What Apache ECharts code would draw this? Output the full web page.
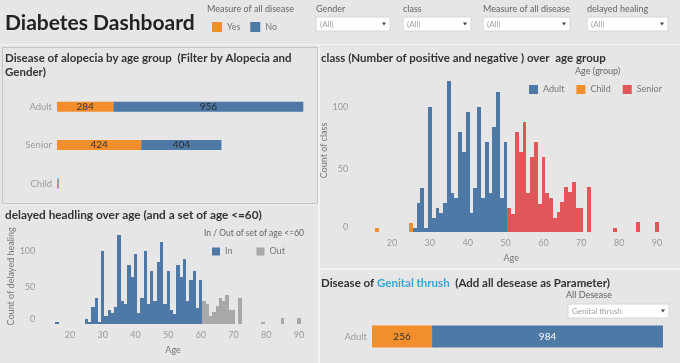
<!DOCTYPE html>
<html><head><meta charset="utf-8">
<script src="https://cdn.jsdelivr.net/npm/echarts@6/dist/echarts.min.js"></script>
<style>html,body{margin:0;padding:0;background:#e6e6e6}#c{width:680px;height:363px}</style>
</head><body><div id="c"></div>
<script>
// ---------- data ----------
const measureNames = ['Yes', 'No'];
const alopeciaGroups = ['Adult', 'Senior', 'Child'];
const alopeciaYes = [284, 424, 7];
const alopeciaNo = [956, 404, 3];
const thrushGroups = ['Adult'];
const thrushYes = [256];
const thrushNo = [984];
const ages =     [16, 25, 26, 27, 28, 29, 30, 31, 32, 33, 34, 35, 36, 37, 38, 39, 40, 41, 42, 43, 44, 45, 46, 47, 48, 49, 50,
                  51, 52, 53, 54, 55, 56, 57, 58, 59, 60, 61, 62, 63, 64, 65, 66, 67, 68, 69, 70, 72, 79, 85, 90];
const counts =   [3, 7, 3, 23, 35, 3, 100, 11, 19, 15, 23, 121, 31, 27, 80, 64, 96, 15, 35, 100, 27, 72, 31, 84, 112, 27, 72,
                  19, 14, 80, 64, 88, 31, 60, 72, 22, 60, 31, 27, 11, 16, 24, 36, 32, 40, 19, 19, 36, 3, 8, 8];
const ageGroup = ['Child','Child','Adult','Adult','Adult','Adult','Adult','Adult','Adult','Adult','Adult','Adult','Adult','Adult','Adult','Adult','Adult','Adult','Adult','Adult','Adult','Adult','Adult','Adult','Adult','Adult','Adult',
                  'Senior','Senior','Senior','Senior','Senior','Senior','Senior','Senior','Senior','Senior','Senior','Senior','Senior','Senior','Senior','Senior','Senior','Senior','Senior','Senior','Senior','Senior','Senior','Senior'];
const groupNames = ['Adult', 'Child', 'Senior'];
const setNames = ['In', 'Out'];
const setLimit = 60;
const filterLabels = ['Gender', 'class', 'Measure of all disease', 'delayed healing'];

// ---------- style ----------
const F = 'Lato, "Open Sans", sans-serif';
const BLUE = '#4e79a7', ORANGE = '#f28e2b', RED = '#e15759', GRAY = '#a8a8a8';
const groupColors = { Adult: BLUE, Child: ORANGE, Senior: RED };

const chart = echarts.init(document.getElementById('c'));

function txt(x, y, text, size, color, weight, align) {
  return { type: 'text', z: 10, style: { x, y, text, fill: color, font: (weight || 'normal') + ' ' + size + 'px ' + F,
    fontSize: size, fontWeight: weight || 'normal', fontFamily: F,
    align: align || 'left', textAlign: align || 'left', verticalAlign: 'middle', textVerticalAlign: 'middle' } };
}
function dropdown(x, y, w, h, label) {
  return [
    { type: 'rect', z: 5, shape: { x, y, width: w, height: h }, style: { fill: '#ffffff', stroke: '#d6d6d6', lineWidth: 1 } },
    txt(x + 4, y + h / 2, label, 8, '#a0a0a0'),
    { type: 'polygon', z: 10, shape: { points: [[x + w - 8, y + h / 2 - 1.5], [x + w - 4, y + h / 2 - 1.5], [x + w - 6, y + h / 2 + 1.5]] }, style: { fill: '#444' } }
  ];
}

const filterPos = [[316, 74], [403, 68], [483, 87], [587, 81]];
const T = 11.5;
const graphics = [
  // panels
  { type: 'rect', z: 1, shape: { x: 2.5, y: 47.5, width: 315, height: 156 }, style: { fill: 'none', stroke: '#c4c4c4', lineWidth: 1 } },
  { type: 'line', z: 1, shape: { x1: 0, y1: 44.5, x2: 680, y2: 44.5 }, style: { stroke: '#f3f3f3', lineWidth: 1 } },
  { type: 'line', z: 1, shape: { x1: 319, y1: 45, x2: 319, y2: 363 }, style: { stroke: '#f3f3f3', lineWidth: 2 } },
  { type: 'line', z: 1, shape: { x1: 319, y1: 269, x2: 680, y2: 269 }, style: { stroke: '#f3f3f3', lineWidth: 2 } },
  { type: 'line', z: 1, shape: { x1: 0, y1: 205, x2: 318, y2: 205 }, style: { stroke: '#f3f3f3', lineWidth: 1 } },
  // header
  txt(5, 23, 'Diabetes Dashboard', 21, '#222', 'bold'),
  txt(207, 9, 'Measure of all disease', 9, '#666'),
  // titles
  txt(5, 58, 'Disease of alopecia by age group  (Filter by Alopecia and', T, '#333', 'bold'),
  txt(5, 72, 'Gender)', T, '#333', 'bold'),
  txt(321, 58, 'class (Number of positive and negative ) over  age group', T, '#333', 'bold'),
  txt(5, 215, 'delayed headling over age (and a set of age <=60)', 11.8, '#333', 'bold'),
  { type: 'text', z: 10, style: { x: 321, y: 283, verticalAlign: 'middle', textVerticalAlign: 'middle',
    text: '{a|Disease of }{b|Genital thrush}{a|  (Add all desease as Parameter)}',
    rich: { a: { fontSize: T, fontWeight: 'bold', fontFamily: F, fill: '#333', color: '#333' },
            b: { fontSize: T, fontWeight: 'bold', fontFamily: F, fill: '#2fa8d8', color: '#2fa8d8' } } } },
  // legend titles
  txt(575, 71, 'Age (group)', 9, '#666'),
  txt(204, 233, 'In / Out of set of age <=60', 8.5, '#666'),
  txt(566, 295, 'All Desease', 9, '#666'),
  ...dropdown(568, 304, 101, 14, 'Genital thrush')
];
filterLabels.forEach((lab, i) => {
  const [x, w] = filterPos[i];
  graphics.push(txt(x, 9, lab, 9, '#666'));
  graphics.push(...dropdown(x, 17, w, 14, '(All)'));
});

const axisLab = { color: '#9a9a9a', fontSize: 9, fontFamily: F };
const noLine = { show: false };

function barLabel(color) {
  return { show: true, position: 'inside', color, fontSize: 10, fontFamily: F,
    formatter: p => (p.value >= 50 ? String(p.value) : '') };
}

const histX = (idx) => ({
  type: 'value', gridIndex: idx, min: 10, max: 93, interval: 10,
  axisLine: noLine, axisTick: noLine, splitLine: noLine,
  axisLabel: Object.assign({ showMinLabel: false, showMaxLabel: false, margin: 7 }, axisLab),
  name: 'Age', nameLocation: 'middle', nameGap: 22, nameTextStyle: { color: '#777', fontSize: 9, fontFamily: F }
});
const histY = (idx, name, margin, gap) => ({
  type: 'value', gridIndex: idx, min: 0, max: 130, interval: 50,
  axisLine: noLine, axisTick: noLine, splitLine: noLine,
  axisLabel: Object.assign({ showMaxLabel: false, margin,
    formatter: v => (v === 0 ? '{z|0}' : String(v)),
    rich: { z: { color: '#9a9a9a', fontSize: 9, fontFamily: F, padding: [0, 0, 10, 0] } } }, axisLab),
  name, nameLocation: 'middle', nameRotate: 90, nameGap: gap, nameTextStyle: { color: '#777', fontSize: 9, fontFamily: F }
});

function histRender(color) {
  return function (params, api) {
    const a = api.value(0), c = api.value(1);
    const p0 = api.coord([a - 0.5, 0]);
    const p1 = api.coord([a + 0.5, c]);
    const x0 = Math.round(p0[0]), x1 = Math.round(p1[0]);
    const yb = Math.round(p0[1]), yt = Math.round(p1[1]);
    return { type: 'rect', shape: { x: x0, y: yt, width: x1 - x0, height: yb - yt },
      style: { fill: color } };
  };
}

const series = [
  { name: 'Yes', type: 'bar', xAxisIndex: 0, yAxisIndex: 0, stack: 'al', data: alopeciaYes, barWidth: 10,
    itemStyle: { color: ORANGE }, label: barLabel('#333') },
  { name: 'No', type: 'bar', xAxisIndex: 0, yAxisIndex: 0, stack: 'al', data: alopeciaNo, barWidth: 10,
    itemStyle: { color: BLUE }, label: barLabel('#2a2a2a') },
  { name: 'Yes', type: 'bar', xAxisIndex: 3, yAxisIndex: 3, stack: 'th', data: thrushYes, barWidth: 22,
    itemStyle: { color: ORANGE }, label: barLabel('#333') },
  { name: 'No', type: 'bar', xAxisIndex: 3, yAxisIndex: 3, stack: 'th', data: thrushNo, barWidth: 22,
    itemStyle: { color: BLUE }, label: barLabel('#ffffff') }
];
groupNames.forEach(g => {
  series.push({ name: g, type: 'custom', xAxisIndex: 1, yAxisIndex: 1, renderItem: histRender(groupColors[g]),
    itemStyle: { color: groupColors[g] }, encode: { x: 0, y: 1 },
    data: ages.map((a, i) => [a, counts[i], ageGroup[i]]).filter(d => d[2] === g).map(d => [d[0], d[1]]) });
});
setNames.forEach(s => {
  const col = s === 'In' ? BLUE : GRAY;
  series.push({ name: s, type: 'custom', xAxisIndex: 2, yAxisIndex: 2, renderItem: histRender(col),
    itemStyle: { color: col }, encode: { x: 0, y: 1 },
    data: ages.map((a, i) => [a, counts[i]]).filter(d => (s === 'In') === (d[0] <= setLimit)) });
});

const legendText = { color: '#777', fontSize: 9, fontFamily: F };
chart.setOption({
  backgroundColor: '#e6e6e6',
  animation: false,
  textStyle: { fontFamily: F },
  grid: [
    { left: 57, top: 87.5, width: 246.3, height: 115.2 },
    { left: 354.1, top: 69.3, width: 314.3, height: 162.4 },
    { left: 37.3, top: 228.7, width: 271.5, height: 95.3 },
    { left: 372, top: 325, width: 291, height: 23 }
  ],
  xAxis: [
    { type: 'value', gridIndex: 0, min: 0, max: 1240, show: false },
    histX(1),
    histX(2),
    { type: 'value', gridIndex: 3, min: 0, max: 1240, show: false }
  ],
  yAxis: [
    { type: 'category', gridIndex: 0, data: alopeciaGroups, inverse: true, axisLine: noLine, axisTick: noLine,
      axisLabel: Object.assign({ margin: 5 }, axisLab, { fontSize: 9.5 }) },
    histY(1, 'Count of class', 6, 19),
    histY(2, 'Count of delayed healing', 2, 19),
    { type: 'category', gridIndex: 3, data: thrushGroups, axisLine: noLine, axisTick: noLine,
      axisLabel: Object.assign({ margin: 5 }, axisLab, { fontSize: 9.5 }) }
  ],
  legend: [
    { data: measureNames, left: 207, top: 17, itemWidth: 10, itemHeight: 10, itemGap: 10, icon: 'rect',
      textStyle: legendText, selectedMode: false },
    { data: groupNames, left: 524, top: 80, itemWidth: 9, itemHeight: 9, itemGap: 12, icon: 'rect',
      textStyle: legendText, selectedMode: false },
    { data: setNames, left: 207, top: 242, itemWidth: 8, itemHeight: 8, itemGap: 24, icon: 'rect',
      textStyle: legendText, selectedMode: false }
  ],
  graphic: graphics,
  series
});
</script>
</body></html>
